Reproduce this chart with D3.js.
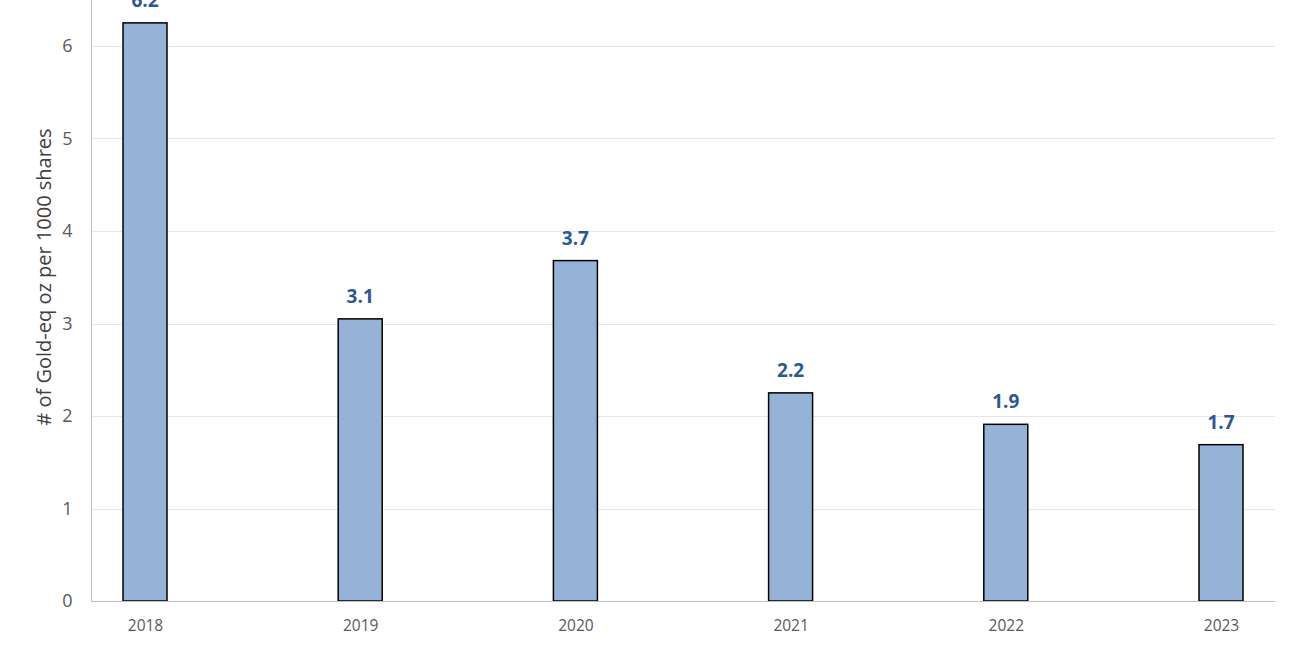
<!DOCTYPE html>
<meta charset="utf-8">
<style>
body { margin: 0; background: #fff; }
svg text { font-family: "Open Sans", Lato, sans-serif; }
.grid line { stroke: #e6e6e6; stroke-width: 1px; }
.tick text { fill: #595959; }
.bar { fill: #95b3d7; stroke: #000; stroke-width: 1.5px; }
.label { fill: #2c5896; font-weight: bold; font-size: 19px; text-anchor: middle; }
</style>
<svg width="1300" height="650"></svg>
<script src="https://d3js.org/d3.v7.min.js"></script>
<script>

var years = ["2018", "2019", "2020", "2021", "2022", "2023"];
var ozPerShares = [6.25, 3.05, 3.68, 2.25, 1.91, 1.69];
var labels = ["6.2", "3.1", "3.7", "2.2", "1.9", "1.7"];
var yTicks = [0, 1, 2, 3, 4, 5, 6];

var svg = d3.select("svg");

var x = d3.scalePoint()
    .domain(years)
    .range([145, 1221]);

var y = d3.scaleLinear()
    .domain([0, 6])
    .range([601, 46]);

var barW = 44;

// gridlines
svg.append("g")
    .attr("class", "grid")
  .selectAll("line")
  .data(yTicks.slice(1))
  .enter().append("line")
    .attr("x1", 92)
    .attr("x2", 1275)
    .attr("y1", function(d) { return Math.round(y(d)) + 0.5; })
    .attr("y2", function(d) { return Math.round(y(d)) + 0.5; });

// bars
svg.selectAll(".bar")
  .data(ozPerShares)
  .enter().append("rect")
    .attr("class", "bar")
    .attr("x", function(d, i) { return x(years[i]) - barW / 2; })
    .attr("y", function(d) { return y(d); })
    .attr("width", barW)
    .attr("height", function(d) { return y(0) - y(d); });

svg.selectAll(".label")
  .data(ozPerShares)
  .enter().append("text")
    .attr("class", "label")
    .attr("x", function(d, i) { return x(years[i]); })
    .attr("y", function(d) { return y(d) - 16; })
    .text(function(d, i) { return labels[i]; });

// y axis
var yAxis = svg.append("g")
    .attr("transform", "translate(91.5,0)")
    .call(d3.axisLeft(y).tickValues(yTicks).tickFormat(d3.format("d")).tickSize(0).tickPadding(19));
yAxis.select(".domain").attr("stroke", "#bfbfbf").attr("d", "M0,0V" + y(0));
yAxis.selectAll("text").style("font-size", "18px");

// x axis
var xAxis = svg.append("g")
    .attr("transform", "translate(0," + (y(0) + 0.5) + ")")
    .call(d3.axisBottom(x).tickSize(0).tickPadding(18));
xAxis.select(".domain").attr("stroke", "#bfbfbf").attr("d", "M91,0H1275");
xAxis.selectAll("text").style("font-size", "15.5px");

svg.append("text")
    .attr("transform", "translate(51,277) rotate(-90)")
    .attr("text-anchor", "middle")
    .style("font-size", "20px")
    .attr("fill", "#404040")
    .text("# of Gold-eq oz per 1000 shares");

</script>
